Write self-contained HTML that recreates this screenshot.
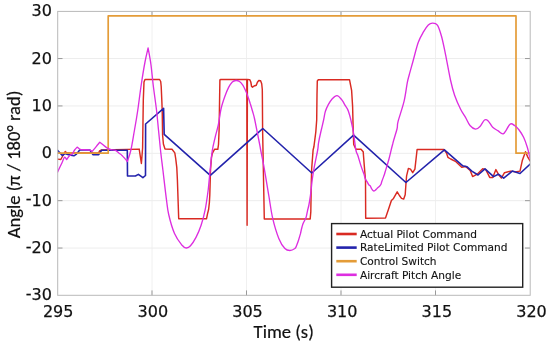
<!DOCTYPE html>
<html><head><meta charset="utf-8"><title>Pitch response plot</title>
<style>html,body{margin:0;padding:0;background:#fff;width:550px;height:347px;overflow:hidden}svg{display:block}</style>
</head><body>
<svg width="550" height="347" viewBox="0 0 550 347">
<rect width="550" height="347" fill="#fff"/>
<g stroke="#ededed" stroke-width="1"><line x1="152.00" y1="11.19" x2="152.00" y2="295.41" stroke="#f0f0f0"/><line x1="246.50" y1="11.19" x2="246.50" y2="295.41" stroke="#f0f0f0"/><line x1="341.00" y1="11.19" x2="341.00" y2="295.41" stroke="#f0f0f0"/><line x1="435.50" y1="11.19" x2="435.50" y2="295.41" stroke="#f0f0f0"/><line x1="57.50" y1="58.56" x2="530.00" y2="58.56"/><line x1="57.50" y1="105.93" x2="530.00" y2="105.93"/><line x1="57.50" y1="153.30" x2="530.00" y2="153.30"/><line x1="57.50" y1="200.67" x2="530.00" y2="200.67"/><line x1="57.50" y1="248.04" x2="530.00" y2="248.04"/></g>
<g stroke="#999" stroke-width="1"><line x1="152.00" y1="295.41" x2="152.00" y2="290.41"/><line x1="152.00" y1="11.19" x2="152.00" y2="16.19"/><line x1="246.50" y1="295.41" x2="246.50" y2="290.41"/><line x1="246.50" y1="11.19" x2="246.50" y2="16.19"/><line x1="341.00" y1="295.41" x2="341.00" y2="290.41"/><line x1="341.00" y1="11.19" x2="341.00" y2="16.19"/><line x1="435.50" y1="295.41" x2="435.50" y2="290.41"/><line x1="435.50" y1="11.19" x2="435.50" y2="16.19"/><line x1="57.50" y1="58.56" x2="62.50" y2="58.56"/><line x1="530.00" y1="58.56" x2="525.00" y2="58.56"/><line x1="57.50" y1="105.93" x2="62.50" y2="105.93"/><line x1="530.00" y1="105.93" x2="525.00" y2="105.93"/><line x1="57.50" y1="153.30" x2="62.50" y2="153.30"/><line x1="530.00" y1="153.30" x2="525.00" y2="153.30"/><line x1="57.50" y1="200.67" x2="62.50" y2="200.67"/><line x1="530.00" y1="200.67" x2="525.00" y2="200.67"/><line x1="57.50" y1="248.04" x2="62.50" y2="248.04"/><line x1="530.00" y1="248.04" x2="525.00" y2="248.04"/></g>
<defs><clipPath id="c"><rect x="57.5" y="11.189999999999998" width="472.5" height="284.22"/></clipPath></defs>
<g clip-path="url(#c)">
<polyline fill="none" stroke="#d92a22" stroke-width="1.45" stroke-linejoin="round" stroke-linecap="round" points="57.5,159.1 60.8,159.5 65.2,151.5 67.0,153.0 98.5,153.0 99.5,151.0 101.6,149.9 139.2,149.1 141.4,163.5 142.6,148.0 143.3,100.0 144.0,82.0 145.0,79.5 159.6,79.5 160.7,81.5 161.2,86.5 161.8,100.0 162.2,110.0 162.6,135.0 163.4,144.0 165.0,149.0 172.0,149.2 174.8,152.9 175.7,158.5 176.8,167.7 177.4,180.0 178.7,218.8 206.5,218.8 207.5,213.9 208.6,209.5 209.4,202.3 209.8,195.0 210.5,170.0 211.5,157.3 212.3,153.5 214.5,149.3 217.8,149.3 218.5,144.5 219.1,130.0 219.9,80.0 220.8,79.5 246.8,79.5 247.1,225.3 247.4,79.5 249.7,79.6 250.8,82.0 251.6,86.5 252.5,87.2 254.1,86.0 256.3,85.2 257.4,82.3 258.8,80.5 260.6,80.8 261.7,83.7 262.3,89.5 262.4,100.0 262.6,130.0 264.3,218.9 310.2,218.9 310.8,212.0 311.3,182.0 311.7,168.5 313.1,150.0 313.9,146.8 315.8,132.0 316.7,120.0 317.0,95.0 317.3,81.0 318.3,79.7 349.5,79.7 351.6,90.3 352.6,106.4 353.2,130.0 353.7,144.5 355.9,149.3 361.0,149.3 363.2,151.8 364.3,165.9 365.5,180.0 365.7,218.3 385.5,218.0 388.5,209.3 391.4,200.5 393.5,198.4 397.2,191.8 399.4,195.5 401.5,198.4 403.7,199.1 405.2,194.7 405.9,184.5 406.6,175.8 408.4,168.4 410.5,169.1 412.7,172.7 414.9,169.1 417.1,149.5 444.0,149.5 446.5,153.0 447.9,157.3 450.7,159.0 455.4,161.3 461.7,167.2 465.6,166.5 470.2,170.4 472.6,176.6 477.2,174.2 482.7,168.8 485.8,169.6 489.7,177.4 492.8,177.4 495.9,169.6 498.3,174.2 501.4,178.1 504.5,172.7 510.7,171.1 515.4,171.9 520.0,171.1 522.4,160.2 525.5,151.7 527.8,157.1 530.2,161.0"/>
<polyline fill="none" stroke="#2323ac" stroke-width="1.6" stroke-linejoin="round" stroke-linecap="round" points="57.5,150.4 62.3,155.5 64.8,153.6 67.7,154.4 71.0,155.1 73.9,155.8 76.1,154.4 78.3,151.8 79.7,150.0 89.9,150.0 92.9,154.6 98.7,154.6 101.6,150.3 127.3,150.3 127.5,176.0 135.4,176.0 138.4,174.4 142.9,177.7 145.5,175.5 145.6,124.0 163.6,108.3 164.2,134.4 210.3,175.4 262.8,128.5 311.8,173.0 353.6,135.1 405.9,182.5 444.4,149.8 462.5,165.7 467.1,166.8 471.8,171.1 478.0,175.0 485.0,168.8 493.6,176.6 498.3,174.2 503.7,178.1 512.3,171.1 520.0,173.5 530.2,164.1"/>
<polyline fill="none" stroke="#e49c38" stroke-width="1.7" stroke-linejoin="round" stroke-linecap="round" points="57.5,153.2 108.2,153.2 108.2,15.9 516.0,15.9 516.0,153.2 531.0,153.2"/>
<path fill="none" stroke="#dd2ee0" stroke-width="1.35" stroke-linejoin="round" stroke-linecap="round" d="M57.5,172.1 C58.2,170.6 60.7,165.5 61.9,163.0 C63.1,160.5 63.7,157.9 64.5,157.3 C65.3,156.7 66.2,159.1 66.6,159.5 C67.1,158.9 68.5,156.8 69.5,155.8 C70.5,154.8 71.7,154.6 72.5,153.6 C73.3,152.6 73.8,151.1 74.6,150.0 C75.4,148.9 76.8,147.6 77.2,147.1 C77.5,147.3 78.3,148.1 79.0,148.5 C79.7,148.9 79.5,149.3 81.2,149.6 C82.9,149.8 87.4,149.7 89.2,150.0 C91.0,150.3 91.7,151.2 92.2,151.4 C93.5,149.9 98.5,143.8 99.8,142.3 C100.7,143.0 104.0,145.6 105.3,146.6 C106.6,147.6 106.7,147.6 107.5,148.1 C108.3,148.6 109.1,149.1 110.4,149.5 C111.7,149.9 114.0,149.7 115.5,150.3 C117.0,150.9 118.0,152.3 119.1,153.2 C120.2,154.0 121.0,154.5 122.0,155.4 C123.0,156.3 124.0,157.6 124.9,158.6 C125.8,159.6 126.9,161.0 127.3,161.5 C127.9,159.6 129.7,155.2 130.9,150.0 C132.1,144.8 133.3,136.7 134.5,130.0 C135.7,123.3 136.7,117.5 137.8,110.0 C138.9,102.5 140.0,93.0 141.2,85.0 C142.4,77.0 143.8,68.2 145.0,62.0 C146.2,55.8 147.6,50.3 148.1,48.0 C148.6,50.8 150.2,58.8 151.0,65.0 C151.8,71.2 152.3,77.5 153.2,85.0 C154.1,92.5 155.6,102.5 156.5,110.0 C157.4,117.5 157.8,123.3 158.5,130.0 C159.2,136.7 159.8,143.3 160.5,150.0 C161.2,156.7 161.9,161.7 162.9,170.0 C163.9,178.3 165.5,192.6 166.5,200.0 C167.5,207.4 167.4,208.9 168.7,214.5 C170.0,220.1 172.3,228.4 174.5,233.5 C176.7,238.6 179.9,242.6 181.8,245.0 C183.8,247.4 184.8,247.9 186.2,248.0 C187.6,248.1 188.9,247.6 190.5,245.8 C192.1,244.0 194.2,240.8 196.0,237.4 C197.8,234.0 199.6,229.8 201.1,225.3 C202.6,220.8 203.9,216.1 205.1,210.2 C206.3,204.3 207.3,196.8 208.2,190.0 C209.0,183.2 209.5,175.9 210.2,169.4 C210.9,162.9 211.4,156.6 212.2,151.2 C213.0,145.8 214.2,141.5 215.2,137.1 C216.2,132.7 217.3,129.7 218.3,125.0 C219.3,120.3 219.9,113.8 221.0,109.0 C222.1,104.2 223.7,99.7 225.0,96.1 C226.3,92.5 227.4,89.8 228.6,87.4 C229.8,85.0 231.1,83.1 232.3,81.9 C233.5,80.8 234.7,80.6 235.9,80.5 C237.1,80.4 238.3,80.7 239.5,81.5 C240.7,82.3 241.8,83.7 242.8,85.2 C243.8,86.7 244.6,88.6 245.4,90.3 C246.2,92.0 246.7,93.2 247.5,95.4 C248.3,97.6 249.5,101.0 250.3,103.7 C251.2,106.4 251.9,109.0 252.6,111.5 C253.3,114.0 253.6,114.2 254.6,119.0 C255.6,123.8 257.8,135.0 258.8,140.0 C259.8,145.0 259.7,144.8 260.5,149.0 C261.3,153.2 262.3,157.7 263.7,165.4 C265.1,173.1 267.2,186.2 268.7,195.0 C270.2,203.8 271.0,211.1 272.7,218.3 C274.4,225.5 276.8,233.4 278.8,238.4 C280.8,243.4 283.0,246.5 284.9,248.5 C286.8,250.5 288.2,250.5 289.9,250.5 C291.6,250.5 293.8,249.3 294.9,248.5 C296.0,247.7 296.0,246.8 296.6,245.4 C297.2,244.0 298.0,241.9 298.6,240.0 C299.2,238.1 299.8,236.0 300.4,233.9 C300.9,231.8 301.4,229.3 301.9,227.5 C302.4,225.7 302.6,224.6 303.2,223.2 C303.8,221.8 304.9,220.1 305.4,219.0 C305.9,217.9 305.9,218.0 306.3,216.6 C306.7,215.2 307.1,212.7 307.5,210.8 C307.9,208.9 308.4,207.6 308.9,205.0 C309.4,202.4 309.9,199.2 310.5,195.0 C311.1,190.8 311.6,184.4 312.2,180.0 C312.8,175.6 313.1,173.5 314.0,168.5 C314.9,163.5 316.9,154.2 317.7,150.0 C318.4,145.8 318.0,146.1 318.5,143.1 C319.0,140.1 319.9,135.8 320.8,132.0 C321.7,128.2 322.8,123.5 323.6,120.0 C324.4,116.5 324.6,113.7 325.4,111.2 C326.2,108.7 327.1,106.8 328.2,104.8 C329.3,102.8 330.4,100.7 331.9,99.2 C333.4,97.7 335.3,95.6 337.0,95.7 C338.7,95.8 340.7,98.6 342.0,100.1 C343.3,101.6 343.7,102.9 344.8,104.8 C345.9,106.7 347.1,107.3 348.5,111.5 C349.9,115.7 351.8,123.6 353.0,130.0 C354.2,136.4 355.1,145.8 355.9,150.0 C356.7,154.2 356.8,152.3 357.7,155.0 C358.6,157.7 360.0,162.8 361.0,165.9 C362.0,169.1 363.1,171.7 363.9,173.9 C364.6,176.1 364.9,177.9 365.5,179.3 C366.1,180.7 366.7,181.2 367.3,182.2 C367.9,183.2 368.6,184.5 369.1,185.1 C369.6,185.7 369.8,185.2 370.2,185.8 C370.6,186.4 371.1,187.8 371.6,188.7 C372.2,189.5 372.9,190.7 373.5,190.9 C374.1,191.2 374.7,190.6 375.3,190.2 C375.9,189.8 376.4,189.0 377.1,188.4 C377.8,187.8 378.6,187.2 379.3,186.5 C380.0,185.8 380.7,184.8 381.1,184.0 C381.5,183.2 381.3,182.9 381.8,181.5 C382.3,180.1 383.4,177.2 384.0,175.6 C384.6,174.0 384.3,174.7 385.1,172.0 C385.9,169.3 387.6,164.1 388.9,159.3 C390.2,154.5 391.5,148.2 392.9,143.2 C394.2,138.1 396.1,132.6 397.0,129.0 C397.9,125.4 396.9,126.0 398.1,121.4 C399.3,116.8 402.6,107.6 404.1,101.2 C405.6,94.8 406.4,87.5 407.2,83.1 C408.0,78.7 408.2,78.8 409.2,75.0 C410.2,71.2 411.7,66.0 413.2,60.5 C414.7,55.0 416.6,47.0 418.3,42.3 C420.0,37.6 421.6,35.1 423.3,32.2 C425.0,29.3 426.8,26.6 428.3,25.1 C429.8,23.6 430.9,23.1 432.4,23.1 C433.9,23.1 435.9,22.9 437.4,25.1 C438.9,27.3 440.1,31.3 441.5,36.2 C442.9,41.1 444.0,47.1 445.5,54.4 C447.0,61.7 449.0,73.2 450.5,80.0 C452.0,86.8 452.9,90.3 454.6,95.2 C456.3,100.1 458.8,105.6 460.6,109.3 C462.4,113.0 463.9,114.6 465.5,117.3 C467.1,120.0 468.3,123.5 470.0,125.5 C471.7,127.5 473.8,128.9 475.5,129.1 C477.2,129.2 478.5,127.9 480.0,126.4 C481.5,124.9 483.1,120.9 484.5,120.0 C485.9,119.1 486.8,119.7 488.2,120.9 C489.6,122.1 491.0,125.6 492.7,127.3 C494.4,129.0 496.4,129.8 498.2,130.9 C500.0,132.0 501.6,134.7 503.6,133.6 C505.6,132.5 508.2,125.5 510.0,124.2 C511.8,122.9 513.0,124.5 514.5,125.5 C516.0,126.5 517.6,128.0 519.1,130.0 C520.6,132.0 522.2,134.4 523.6,137.3 C525.0,140.2 526.2,143.8 527.3,147.3 C528.4,150.8 529.5,156.4 530.0,158.2"/>
</g>
<rect x="57.7" y="11.4" width="472.50" height="283.90" fill="none" stroke="#b9b9b9" stroke-width="1.0"/>
<g font-family="'DejaVu Sans', Verdana, sans-serif" font-size="16" fill="#111" stroke="#111" stroke-width="0.25"><text x="51.9" y="16.19" text-anchor="end">30</text><text x="51.9" y="63.56" text-anchor="end">20</text><text x="51.9" y="110.93" text-anchor="end">10</text><text x="51.9" y="158.30" text-anchor="end">0</text><text x="51.9" y="205.67" text-anchor="end"><tspan dy="-1.3">-</tspan><tspan dy="1.3">10</tspan></text><text x="51.9" y="253.04" text-anchor="end"><tspan dy="-1.3">-</tspan><tspan dy="1.3">20</tspan></text><text x="51.9" y="300.41" text-anchor="end"><tspan dy="-1.3">-</tspan><tspan dy="1.3">30</tspan></text><text x="58.20" y="316.6" text-anchor="middle">295</text><text x="152.86" y="316.6" text-anchor="middle">300</text><text x="247.52" y="316.6" text-anchor="middle">305</text><text x="342.18" y="316.6" text-anchor="middle">310</text><text x="436.84" y="316.6" text-anchor="middle">315</text><text x="531.50" y="316.6" text-anchor="middle">320</text></g>
<text x="283.7" y="337.5" text-anchor="middle" font-family="Carlito, 'Liberation Sans', sans-serif" font-size="18.6" fill="#111" stroke="#111" stroke-width="0.2">Time (s)</text>
<text transform="translate(19.6,164.5) rotate(-90)" text-anchor="middle" font-family="Carlito, 'Liberation Sans', sans-serif" font-size="18.6" fill="#111" stroke="#111" stroke-width="0.2">Angle (&#960; / 180&#176; rad)</text>
<rect x="331.6" y="223.6" width="191.1" height="63.6" fill="#fff" stroke="#222" stroke-width="1.4"/>
<g font-family="'DejaVu Sans', Verdana, sans-serif" font-size="10.6" fill="#111" stroke="#111" stroke-width="0.12">
<line x1="336.3" x2="356.7" y1="234" y2="234" stroke="#d92a22" stroke-width="2.6"/>
<line x1="336.3" x2="356.7" y1="247.6" y2="247.6" stroke="#2323ac" stroke-width="2.6"/>
<line x1="336.3" x2="356.7" y1="261.2" y2="261.2" stroke="#e49c38" stroke-width="2.6"/>
<line x1="336.3" x2="356.7" y1="274.8" y2="274.8" stroke="#dd2ee0" stroke-width="2.6"/>
<text x="359.9" y="237.7">Actual Pilot Command</text>
<text x="359.9" y="251.29999999999998">RateLimited Pilot Command</text>
<text x="359.9" y="264.9">Control Switch</text>
<text x="359.9" y="278.5">Aircraft Pitch Angle</text>
</g>
</svg>
</body></html>
